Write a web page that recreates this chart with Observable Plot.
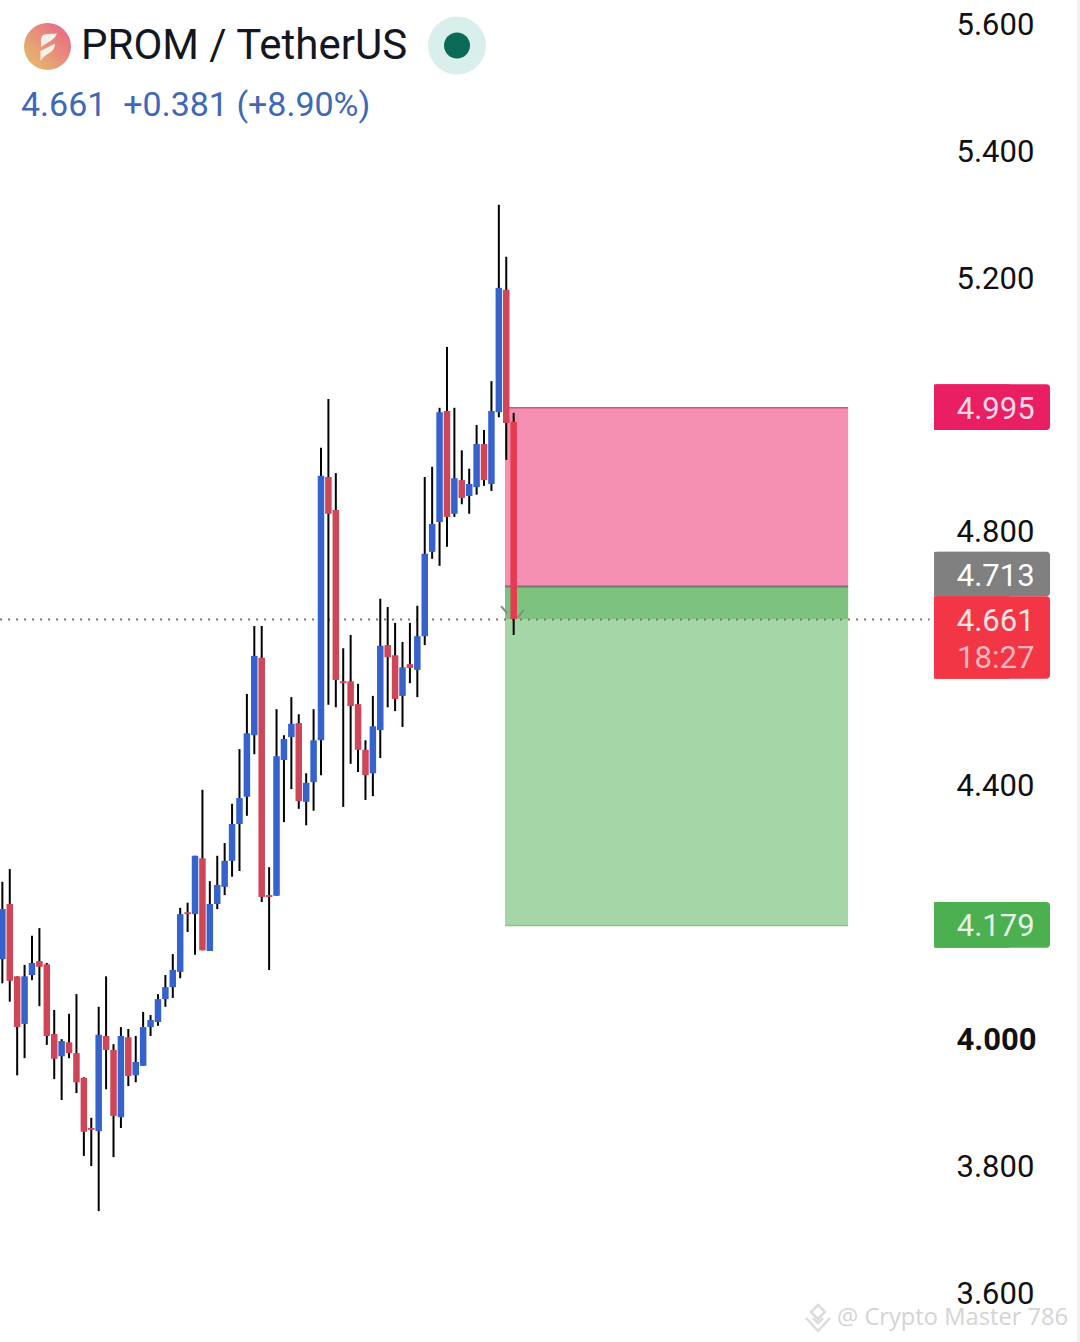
<!DOCTYPE html>
<html>
<head>
<meta charset="utf-8">
<script src="https://cdn.jsdelivr.net/npm/d3@7"></script>
<script src="https://cdn.jsdelivr.net/npm/@observablehq/plot@0.6"></script>
<style>
html,body{margin:0;padding:0;background:#fff;overflow:hidden}
#wrap{position:relative;width:1080px;height:1342px;font-family:Roboto,sans-serif}
#wrap svg.plot{display:block}
.ov{position:absolute;white-space:pre;line-height:1}
</style>
</head>
<body>
<div id="wrap">
  <div id="chart"></div>
  <svg class="ov" style="left:0;top:0" width="500" height="80">
    <defs><linearGradient id="lg" x1="0" y1="1" x2="1" y2="0"><stop offset="0" stop-color="#e5c468"/><stop offset="1" stop-color="#ea5f8a"/></linearGradient></defs>
    <circle cx="47.500" cy="46.500" r="23.500" fill="url(#lg)"/>
    <path d="M41 47 V39 Q41.500 34.500 47 34 L57 33.500 Q55.500 38 52 40 Z" fill="#f6efe9"/>
    <path d="M40.500 61 V51 L55 43.500 Q55 49.500 50 52.500 Q44 55.500 40.500 61 Z" fill="#f6efe9"/>
    <circle cx="457" cy="45.500" r="29" fill="#d9efeb"/>
    <circle cx="457" cy="45.500" r="13" fill="#0c6b58"/>
  </svg>
  <div class="ov" style="left:81px;top:24px;font-size:42px;color:#131722">PROM / TetherUS</div>
  <div class="ov" style="left:21px;top:87px;font-size:34px;color:#3d69b8">4.661  +0.381 (+8.90%)</div>
  <svg class="ov" style="left:803px;top:1303px" width="30" height="30">
    <g fill="none" stroke="#dcdcdc" stroke-width="2.500"><path d="M15 2 L22 9 L15 16 L8 9 Z"/><path d="M3 15 L15 28 L27 15"/><path d="M10 15 L15 20 L20 15"/></g>
  </svg>
  <div class="ov" style="left:837px;top:1305px;font-size:23.700px;font-family:'Open Sans',sans-serif;color:#d4d4d4">@ Crypto Master 786</div>
  <div class="ov" style="left:1077px;top:0;width:3px;height:1342px;background:#f1f1f1"></div>
</div>
<script>
const highs = [4.247,4.267,4.098,4.116,4.162,4.174,4.119,4.045,3.999,4.039,
4.070,3.939,3.875,4.050,4.098,3.991,4.018,4.015,4.004,4.042,
4.037,4.070,4.100,4.133,4.206,4.214,4.288,4.392,4.248,4.288,
4.308,4.370,4.456,4.543,4.650,4.650,4.270,4.519,4.478,4.538,
4.511,4.418,4.519,4.931,5.008,4.891,4.615,4.636,4.559,4.470,
4.540,4.693,4.680,4.655,4.625,4.655,4.682,4.885,4.901,4.994,
5.090,4.994,4.927,4.898,4.967,4.959,5.036,5.314,5.232,4.986];
const lows = [4.087,4.058,3.942,3.969,4.092,4.051,3.990,3.936,3.903,3.969,
3.914,3.815,3.799,3.728,3.920,3.813,3.859,3.925,3.931,3.957,
4.004,4.020,4.050,4.064,4.095,4.168,4.132,4.139,4.138,4.204,
4.226,4.255,4.264,4.351,4.448,4.215,4.108,4.225,4.341,4.393,
4.362,4.336,4.359,4.415,4.526,4.522,4.365,4.433,4.420,4.376,
4.382,4.442,4.522,4.516,4.491,4.560,4.538,4.620,4.756,4.745,
4.775,4.822,4.842,4.827,4.857,4.871,4.863,4.979,4.912,4.636];
const opens = [4.125,4.212,4.098,4.023,4.100,4.122,4.117,4.007,3.972,3.994,
3.977,3.938,3.859,3.854,4.004,3.982,3.876,4.002,3.942,3.957,
4.018,4.026,4.062,4.081,4.105,4.199,4.196,4.284,4.138,4.212,
4.239,4.280,4.338,4.381,4.478,4.600,4.226,4.225,4.439,4.475,
4.497,4.373,4.404,4.470,4.885,4.833,4.563,4.563,4.527,4.455,
4.418,4.486,4.620,4.604,4.540,4.590,4.581,4.634,4.767,4.814,
4.989,4.827,4.880,4.855,4.869,4.937,4.874,4.987,5.180,4.972];
const closes = [4.204,4.091,4.018,4.098,4.119,4.113,4.004,3.968,3.996,3.977,
3.931,3.853,3.856,4.006,3.982,3.878,4.004,3.941,3.963,4.018,
4.029,4.062,4.081,4.108,4.196,4.196,4.288,4.139,4.212,4.242,
4.280,4.338,4.379,4.481,4.603,4.223,4.223,4.445,4.472,4.496,
4.374,4.403,4.470,4.887,4.827,4.565,4.560,4.524,4.455,4.415,
4.492,4.619,4.601,4.535,4.585,4.584,4.634,4.764,4.811,4.987,
4.822,4.883,4.852,4.874,4.937,4.880,4.989,5.183,4.970,4.661];

const priceTicks = [5.6,5.4,5.2,4.8,4.4,3.8,3.6];
const boldTicks = [4.0];
const stopPrice = 4.995, entryPrice = 4.713, targetPrice = 4.179, lastPrice = 4.661;
const countdown = "18:27";

const candles = highs.map((h,i)=>({i, high:h, low:lows[i], open:opens[i], close:closes[i]}));
const fmt = d3.format(".3f");

const BLUE="#3562cc", RED="#cf4659", LAST="#e63a50";
const bodyColor = d => d.i===candles.length-1 ? LAST : (d.close>=d.open ? BLUE : RED);

// Position tool spans and price-tag column, in bar units
const xMin=-0.25, xMax=127.95;
const boxL=67.9, boxR=114.2, tagL=125.8, tagM=134.05, tagR=141.45, tagSq=136;
const tags = [
  {y1:5.031,y2:4.959,fill:"#e91e63"},
  {y1:4.767,y2:4.697,fill:"#808080"},
  {y1:4.215,y2:4.143,fill:"#4caf50"},
  {y1:4.697,y2:4.567,fill:"#f23645"}
];
const tagTexts = [
  {y:stopPrice,t:fmt(stopPrice),c:"#fbd9e6"},
  {y:4.731,t:fmt(entryPrice),c:"#ffffff"},
  {y:targetPrice,t:fmt(targetPrice),c:"#e4f4e4"},
  {y:lastPrice,t:fmt(lastPrice),c:"#fde3e6"},
  {y:4.602,t:countdown,c:"#f9b6bd"}
];
const chevron = [
  {x1:67.3,y1:4.682,x2:68.15,y2:4.671},
  {x1:70.35,y1:4.676,x2:69.55,y2:4.664}
];

const fig = Plot.plot({
  width:1080, height:1342,
  marginLeft:0, marginRight:130, marginTop:0, marginBottom:0,
  style:{fontFamily:"Roboto, sans-serif", background:"transparent"},
  x:{domain:[xMin,xMax], axis:null},
  y:{domain:[3.5217,5.6367], axis:null},
  marks:[
    Plot.rect([0],{x1:boxL,x2:boxR,y1:entryPrice,y2:stopPrice,fill:"#f48fb1"}),
    Plot.rect([0],{x1:boxL,x2:boxR,y1:targetPrice,y2:entryPrice,fill:"#a5d6a7"}),
    Plot.rect([0],{x1:boxL,x2:boxR,y1:lastPrice,y2:entryPrice,fill:"#7dc37f"}),
    Plot.ruleY([stopPrice],{x1:boxL,x2:boxR,stroke:"#d4567f",strokeWidth:1.5}),
    Plot.ruleY([entryPrice],{x1:boxL,x2:boxR,stroke:"#777777",strokeWidth:2}),
    Plot.ruleY([targetPrice],{x1:boxL,x2:boxR,stroke:"#86c488",strokeWidth:1.5}),
    Plot.ruleY([lastPrice],{x1:xMin,x2:125.2,stroke:"#8f6f6f",strokeWidth:2,strokeDasharray:"2,6"}),
    Plot.ruleX(candles,{x:"i",y1:"low",y2:"high",stroke:"#000",strokeWidth:2}),
    Plot.ruleX(candles,{x:"i",y1:"open",y2:"close",stroke:bodyColor,strokeWidth:6.5}),
    Plot.link(chevron,{x1:"x1",y1:"y1",x2:"x2",y2:"y2",stroke:"#8a8a8a",strokeWidth:2}),
    Plot.axisY(priceTicks,{anchor:"right",tickSize:0,tickPadding:6,tickFormat:fmt,fontSize:31,fill:"#111",label:null,dy:1}),
    Plot.axisY(boldTicks,{anchor:"right",tickSize:0,tickPadding:6,tickFormat:fmt,fontSize:31,fontWeight:"bold",fill:"#111",label:null,dy:1.5}),
    Plot.rect(tags,{x1:tagL,x2:tagR,y1:"y1",y2:"y2",fill:"fill",rx:4}),
    Plot.rect(tags,{x1:tagL,x2:tagSq,y1:"y1",y2:"y2",fill:"fill"}),
    Plot.text(tagTexts,{x:tagM,y:"y",text:"t",fill:"c",fontSize:31,dy:1})
  ]
});
document.getElementById("chart").appendChild(fig);
</script>
</body>
</html>
